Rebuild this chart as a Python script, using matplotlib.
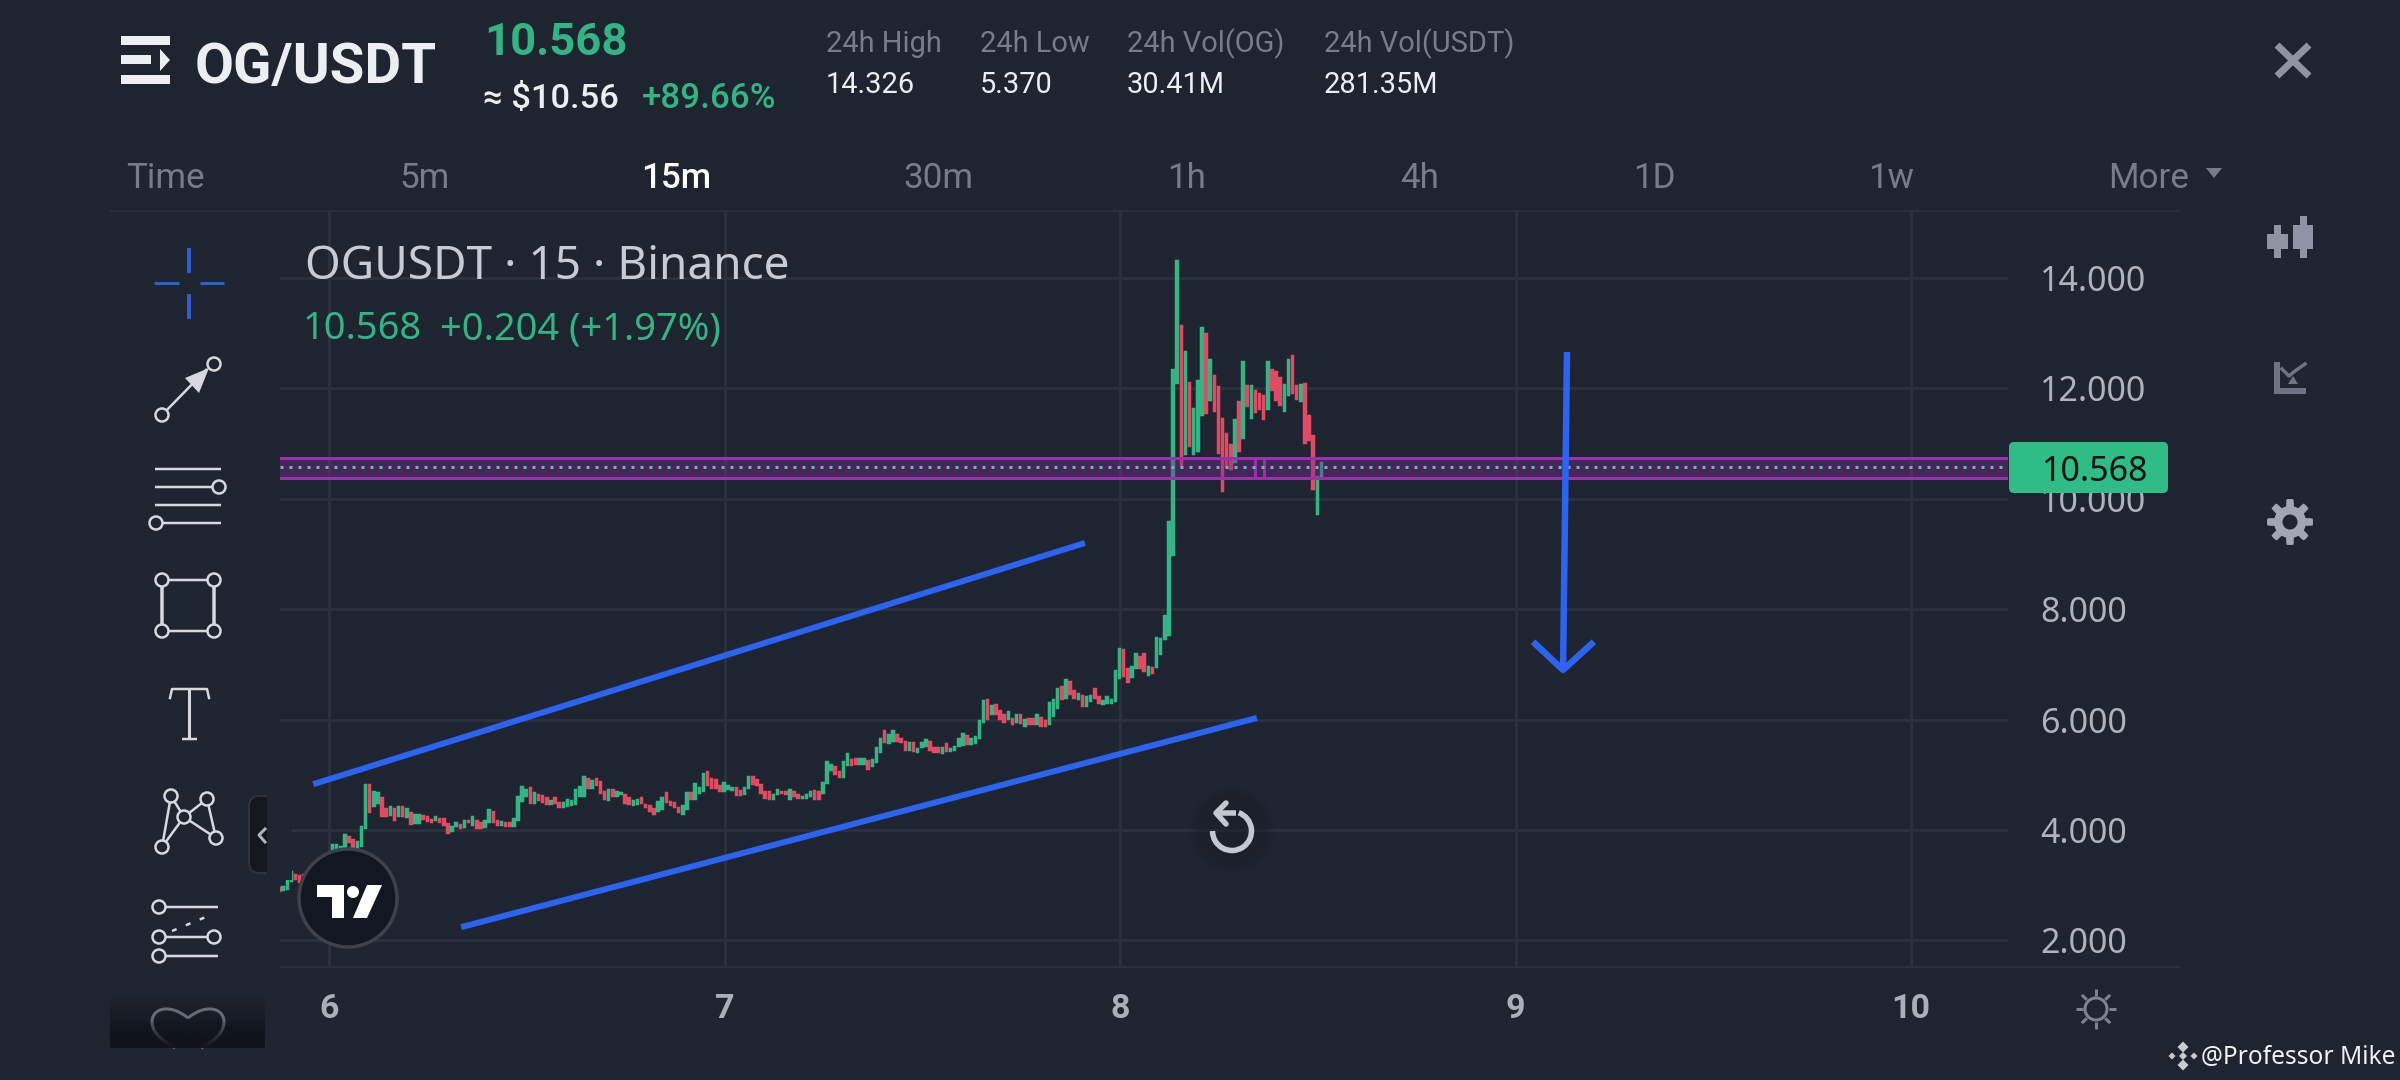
import numpy as np
import matplotlib
matplotlib.use("Agg")
import matplotlib.pyplot as plt
from matplotlib.colors import to_rgb
from matplotlib.patches import Circle, Polygon, FancyBboxPatch, Rectangle, PathPatch, Arc
from matplotlib.path import Path

# ---------- data ----------
symbol = "OG/USDT"
last_price = 10.568
band_top, band_bottom = 10.74, 10.38
price_ticks = [2, 4, 6, 8, 10, 12, 14]
day_ticks = [6, 7, 8, 9, 10]
last_candle_day = 8.509
candle_days = 1 / 96

highs = [
 2.96,2.98,3.20,3.26,3.21,3.18,3.20,3.25,3.30,3.30,
 3.40,3.50,3.55,3.74,3.75,3.71,3.93,3.89,3.84,3.80,
 4.07,4.84,4.83,4.71,4.68,4.60,4.39,4.43,4.39,4.43,
 4.43,4.39,4.32,4.29,4.29,4.28,4.25,4.20,4.25,4.22,
 4.22,4.12,4.08,4.14,4.11,4.18,4.18,4.25,4.18,4.15,
 4.19,4.38,4.35,4.19,4.16,4.14,4.15,4.21,4.61,4.80,
 4.75,4.77,4.68,4.65,4.63,4.59,4.54,4.60,4.51,4.51,
 4.57,4.54,4.74,4.80,4.98,4.94,4.91,4.94,4.89,4.71,
 4.74,4.74,4.71,4.68,4.66,4.60,4.54,4.56,4.60,4.48,
 4.45,4.39,4.52,4.59,4.69,4.53,4.51,4.42,4.45,4.69,
 4.68,4.86,4.77,5.04,5.07,4.94,4.92,4.81,4.87,4.81,
 4.78,4.78,4.72,4.78,4.98,4.98,4.92,4.83,4.71,4.70,
 4.65,4.75,4.71,4.70,4.74,4.70,4.66,4.62,4.65,4.70,
 4.72,4.71,4.87,5.25,5.19,5.16,5.06,5.25,5.40,5.29,
 5.30,5.30,5.30,5.27,5.28,5.50,5.66,5.82,5.74,5.81,
 5.74,5.67,5.61,5.60,5.59,5.48,5.59,5.64,5.61,5.51,
 5.50,5.51,5.58,5.48,5.53,5.66,5.75,5.72,5.66,5.70,
 5.99,6.35,6.38,6.26,6.28,6.17,6.10,6.16,6.02,6.10,
 6.10,6.01,6.02,6.02,6.10,6.04,6.00,6.32,6.38,6.58,
 6.61,6.73,6.70,6.54,6.49,6.45,6.42,6.45,6.58,6.43,
 6.35,6.42,6.38,6.90,7.29,7.27,6.93,6.97,7.20,7.15,
 7.20,6.97,6.96,7.50,7.47,7.89,9.59,12.35,14.33,13.15,
 12.68,12.12,11.64,12.16,13.11,13.01,12.53,12.24,12.04,11.46,
 11.20,10.99,11.44,11.77,12.50,12.06,12.07,11.97,11.92,11.88,
 12.50,12.36,12.31,12.21,12.08,12.53,12.60,12.06,12.08,12.09,
 11.52,11.15,10.41,10.66]
lows = [
 2.88,2.89,2.92,3.06,3.10,3.04,3.09,3.12,3.20,3.20,
 3.25,3.30,3.40,3.55,3.58,3.58,3.64,3.76,3.64,3.59,
 3.70,4.01,4.30,4.42,4.47,4.23,4.23,4.25,4.16,4.23,
 4.23,4.21,4.09,4.11,4.11,4.18,4.15,4.12,4.17,4.13,
 4.07,3.92,3.96,4.05,4.02,4.04,4.12,4.07,4.01,4.02,
 4.03,4.13,4.13,4.07,4.08,4.06,4.05,4.05,4.16,4.51,
 4.60,4.48,4.47,4.53,4.49,4.45,4.45,4.48,4.40,4.40,
 4.42,4.43,4.46,4.59,4.60,4.75,4.75,4.80,4.65,4.55,
 4.52,4.60,4.60,4.63,4.48,4.46,4.43,4.45,4.48,4.40,
 4.32,4.27,4.32,4.37,4.49,4.43,4.40,4.30,4.27,4.36,
 4.54,4.55,4.66,4.68,4.80,4.75,4.74,4.69,4.69,4.72,
 4.71,4.62,4.62,4.63,4.75,4.81,4.80,4.66,4.57,4.55,
 4.55,4.63,4.65,4.63,4.55,4.59,4.56,4.56,4.57,4.59,
 4.55,4.55,4.66,4.84,5.06,5.00,4.94,4.95,5.16,5.16,
 5.18,5.18,5.18,5.09,5.14,5.22,5.39,5.57,5.56,5.60,
 5.60,5.57,5.44,5.43,5.41,5.39,5.48,5.50,5.44,5.40,
 5.39,5.38,5.42,5.42,5.44,5.51,5.52,5.54,5.54,5.56,
 5.64,5.93,5.99,6.08,6.08,5.99,5.93,5.99,5.91,5.94,
 5.92,5.87,5.90,5.90,5.90,5.87,5.86,5.90,6.04,6.20,
 6.35,6.38,6.45,6.37,6.35,6.22,6.23,6.31,6.37,6.28,
 6.26,6.29,6.29,6.32,6.73,6.78,6.67,6.75,6.91,6.91,
 6.87,6.79,6.82,6.93,7.17,7.45,7.52,8.97,12.08,10.59,
 10.79,10.94,10.79,10.84,11.50,11.53,11.77,11.58,10.81,10.13,
 10.58,10.52,10.64,10.84,11.09,11.67,11.44,11.56,11.60,11.43,
 11.61,11.96,11.77,11.69,11.58,11.86,11.90,11.79,11.76,10.99,
 11.04,10.16,9.70,10.35]
directions = (
 "RGGGRRRGGR" "GGGGGGGRRG" "GGRGGRRGRG" "RGRGGRRRGR" "RRGGRGRGRR"
 "GGRRGRRGGG" "GRGRRRGRRG" "GGGGGRGRRR" "GRGGRRGGRR" "RRGGRRRRGG"
 "RGGGRRRRGG" "GRRGGRRRRR" "GGRRGRRGGG" "RRGGGRRGGR" "RGGRGGGRGG"
 "RRRGRGGGRR" "RGRGGGGRGG" "GGRGRRRGRG" "RGRRGRRGGG" "RGRRGRGGRR"
 "GGGGGRRGGR" "RGRGGGGGGR" "GRGGGRGRRR" "RRGRGRGRRR" "GRRRGGRRGR" "RRGG")

upper_channel_day = [5.96, 7.911]
upper_channel_price = [4.83, 9.20]
lower_channel_day = [6.334, 8.346]
lower_channel_price = [2.24, 6.03]
arrow_shaft_day = [9.130, 9.120]
arrow_shaft_price = [12.66, 6.90]
arrow_head_day = [9.044, 9.120, 9.198]
arrow_head_price = [7.41, 6.90, 7.41]
range_box_days = [8.34, 8.363]

stat_labels = ["24h High", "24h Low", "24h Vol(OG)", "24h Vol(USDT)"]
stat_values = ["14.326", "5.370", "30.41M", "281.35M"]
intervals = ["Time", "5m", "15m", "30m", "1h", "4h", "1D", "1w", "More"]

# ---------- style ----------
BG = "#1e2430"
GRID = "#2b313c"
GREEN = "#33b583"
RED = "#e04a63"
BLUE = "#2b63f2"
PURPLE = "#9a2fb0"
ICON = "#d6d8de"
MUTED = "#757c8a"
PX = 0.72  # points per pixel at dpi 100
UIF = "Roboto"
CHF = "Noto Sans"

fig = plt.figure(figsize=(24, 10.8), dpi=100, facecolor=BG)

def box(x0, y0, x1, y1):
    return [x0 / 2400, 1 - y1 / 1080, (x1 - x0) / 2400, (y1 - y0) / 1080]

# ---------- price chart ----------
ax = fig.add_axes(box(280, 211, 2008, 967), facecolor=BG)
ax.set_xlim(5.876, 10.245)
ax.set_ylim(1.518, 15.214)
for s in ax.spines.values():
    s.set_visible(False)
ax.set_axisbelow(True)
ax.grid(True, color=GRID, lw=3 * PX)
ax.yaxis.tick_right()
ax.set_yticks(price_ticks)
ax.set_yticklabels([f"{v:.3f}" for v in price_ticks], fontfamily=CHF, fontsize=34 * PX, color="#aeb2bc")
ax.set_xticks(day_ticks)
ax.set_xticklabels([str(d) for d in day_ticks], fontfamily=UIF, fontsize=34 * PX, fontweight="bold", color="#aab0ba")
ax.tick_params(axis="y", length=0, pad=32 * PX)
ax.tick_params(axis="x", length=0, pad=26 * PX)

days = last_candle_day - candle_days * (len(highs) - 1 - np.arange(len(highs)))
highs_a, lows_a = np.array(highs), np.array(lows)
cols = [GREEN if d == "G" else RED for d in directions]
ax.bar(days, highs_a - lows_a, bottom=lows_a, width=candle_days * 0.85, color=cols,
       edgecolor=cols, linewidth=0.35, zorder=3)

ax.axhspan(band_bottom, band_top, color="#7a2a96", alpha=0.42, lw=0, zorder=4)
ax.axhline(band_top, color=PURPLE, lw=3 * PX, zorder=4)
ax.axhline(band_bottom, color=PURPLE, lw=3 * PX, zorder=4)
for d in range_box_days:
    ax.plot([d, d], [band_bottom, band_top], color=PURPLE, lw=3 * PX, zorder=4)
ax.axhline(last_price, color="#62bda6", lw=3 * PX, linestyle=(0, (1, 2)), zorder=5)

ax.plot(upper_channel_day, upper_channel_price, color=BLUE, lw=6 * PX, solid_capstyle="butt", zorder=6)
ax.plot(lower_channel_day, lower_channel_price, color=BLUE, lw=6 * PX, solid_capstyle="butt", zorder=6)
ax.plot(arrow_shaft_day, arrow_shaft_price, color=BLUE, lw=6.5 * PX, solid_capstyle="butt", zorder=6)
ax.plot(arrow_head_day, arrow_head_price, color=BLUE, lw=6.5 * PX, solid_capstyle="butt", solid_joinstyle="round", zorder=6)

# ---------- interface overlay (pixel coordinates) ----------
ui = fig.add_axes([0, 0, 1, 1], facecolor="none")
ui.set_axis_off()

def hl(x0, y0, x1, y1, color=ICON, w=3, z=5, cap="butt"):
    ui.plot([x0, x1], [y0, y1], color=color, lw=w * PX, solid_capstyle=cap, zorder=z)

def ring(x, y, r=6.5, w=2.5, color=ICON, face=BG, z=6):
    ui.add_patch(Circle((x, y), r, fc=face, ec=color, lw=w * PX, zorder=z))

def T(x, y, s, size, color="white", weight="normal", ha="left", va="baseline", fam=UIF, z=8):
    ui.text(x, y, s, fontsize=size * PX, color=color, fontweight=weight, ha=ha, va=va, family=fam, zorder=z)

# frame lines
hl(110, 211, 2180, 211, color="#292f3a", w=2, z=1)
hl(280, 967, 2180, 967, color=GRID, w=2, z=1)

# header
for y0, y1, x1 in [(36, 45, 170), (55, 64, 151), (75, 84, 170)]:
    ui.add_patch(Rectangle((121, y0), x1 - 121, y1 - y0, fc="#eceef2", ec="none"))
ui.add_patch(Polygon([(160, 49), (170, 60), (160, 71)], fc="#eceef2", ec="none"))
T(195, 83, symbol, 56.5, color="#eceef2", weight="bold")
T(484, 55, f"{last_price:.3f}", 45.5, color=GREEN, weight="bold")
T(483, 108, "≈ $10.56", 34.5, color="#eceef2", weight="medium")
T(642, 108, "+89.66%", 35, color=GREEN, weight="medium")
for x, lab, val in zip([826, 980, 1127, 1324], stat_labels, stat_values):
    T(x, 52, lab, 29, color=MUTED)
    T(x, 93, val, 29, color="#eceef2")
hl(2277, 45, 2309, 76, color="#8d94a2", w=7)
hl(2309, 45, 2277, 76, color="#8d94a2", w=7)

# interval tabs
tab_x = [165, 424, 676, 938, 1187, 1420, 1654, 1891, 2149]
for x, lab in zip(tab_x, intervals):
    T(x, 188, lab, 35, color="white" if lab == "15m" else MUTED, weight="medium" if lab == "15m" else "normal", ha="center")
ui.add_patch(Polygon([(2206, 168), (2222, 168), (2214, 178)], fc=MUTED, ec="none"))

# chart legend
T(305, 279, "OGUSDT · 15 · Binance", 46, color="#c8cbd3", fam=CHF)
T(303, 339, "10.568", 38, color=GREEN, fam=CHF)
T(440, 339, "+0.204 (+1.97%)", 38, color=GREEN, fam=CHF)

# last price tag
ui.add_patch(FancyBboxPatch((2013, 446), 151, 43, boxstyle="round,pad=4,rounding_size=5", fc="#2fbd85", ec="none", zorder=7))
T(2148, 468, f"{last_price:.3f}", 34, color="#0e1116", ha="right", va="center_baseline", fam=CHF)

# left toolbar
C = "#2b5fd6"
hl(189, 248, 189, 273, C, 4); hl(189, 294, 189, 319, C, 4)
hl(154, 283, 179, 283, C, 3); hl(200, 283, 224, 283, C, 3)

hl(162, 415, 207, 369, ICON, 2.5)
ui.add_patch(Polygon([(209, 368), (185, 378), (199, 393)], fc=ICON, ec="none", zorder=5))
ring(162, 415); ring(214, 364)

for y, x0, x1 in [(469, 155, 221), (487, 155, 219), (505, 155, 221), (523, 156, 221)]:
    hl(x0, y, x1, y, ICON, 2.5)
ring(219, 487); ring(156, 523)

hl(162, 580, 214, 580, ICON, 2.5); hl(162, 631, 214, 631, ICON, 2.5)
hl(162, 580, 162, 631, ICON, 3.5); hl(214, 580, 214, 631, ICON, 3.5)
for p in [(162, 580), (214, 580), (162, 631), (214, 631)]:
    ring(*p)

ui.plot([170, 172, 207, 209], [698, 689, 689, 698], color=ICON, lw=2.5 * PX, zorder=5)
hl(189, 689, 189, 739, ICON, 3); hl(182, 739, 197, 739, ICON, 2.5)

nodes = [(171, 796), (207, 799), (184, 817), (162, 847), (216, 838)]
for a, b in [(0, 3), (0, 2), (2, 1), (1, 4), (2, 4), (2, 3)]:
    hl(*nodes[a], *nodes[b], ICON, 2.5)
for n in nodes:
    ring(*n)

hl(159, 907, 218, 907, ICON, 2.5); hl(159, 937, 214, 937, ICON, 2.5); hl(159, 956, 218, 956, ICON, 2.5)
ui.plot([172, 213], [931, 914], color=ICON, lw=2.5 * PX, linestyle=(0, (2, 4)), zorder=5)
for p in [(159, 907), (159, 937), (159, 956), (214, 937)]:
    ring(*p)

# faded heart tile
grad = np.linspace(0, 1, 64)
rgba = np.zeros((64, 1, 4))
rgba[..., :3] = to_rgb("#10131a")
rgba[:, 0, 3] = grad ** 0.8
ui.imshow(rgba, extent=(110, 265, 1048, 996), aspect="auto", zorder=2, interpolation="bilinear")
heart = Path([(188, 1018), (170, 1003), (152, 1008), (152, 1022), (152, 1034), (165, 1042), (175, 1048),
              (201, 1048), (212, 1042), (224, 1034), (224, 1022), (224, 1008), (206, 1003), (188, 1018)],
             [Path.MOVETO, Path.CURVE4, Path.CURVE4, Path.CURVE4, Path.CURVE4, Path.CURVE4, Path.CURVE4,
              Path.MOVETO, Path.CURVE4, Path.CURVE4, Path.CURVE4, Path.CURVE4, Path.CURVE4, Path.CURVE4])
ui.add_patch(PathPatch(heart, fc="none", ec="#666b78", lw=3 * PX, zorder=3))
rgba2 = rgba.copy(); rgba2[:, 0, 3] = grad ** 0.7
ui.imshow(rgba2, extent=(110, 265, 1048, 1020), aspect="auto", zorder=4, interpolation="bilinear")

# collapse tab
ui.add_patch(FancyBboxPatch((255, 802), 30, 65, boxstyle="round,pad=6,rounding_size=10", fc="#14171e", ec="#2d323d", lw=1.5, zorder=4))
ui.add_patch(Rectangle((267, 790), 25, 90, fc=BG, ec="none", zorder=4.5))
ui.plot([265, 259, 265], [829, 835, 842], color="#b0b4be", lw=3 * PX, zorder=5)

# TradingView badge
ui.add_patch(Circle((348, 898), 49, fc="#131722", ec="#3c414c", lw=3.5 * PX, zorder=7))
ui.add_patch(Polygon([(317, 885), (344, 885), (344, 918), (332, 918), (332, 897), (317, 897)], fc="white", ec="none", zorder=8))
ui.add_patch(Circle((353, 892), 6, fc="white", ec="none", zorder=8))
ui.add_patch(Polygon([(367, 885), (382, 885), (367, 918), (353, 918)], fc="white", ec="none", zorder=8))

# reset button
for r, a in [(44, .12), (40, .18), (36, .4)]:
    ui.add_patch(Circle((1232, 830), r, fc="#1a1f29", ec="none", alpha=a, zorder=6))
ui.add_patch(Arc((1232, 831), 39, 39, angle=0, theta1=-70, theta2=180, ec="#c4c7cf", lw=5.5 * PX, zorder=7))
ui.plot([1226, 1216, 1226], [803, 813, 824], color="#c4c7cf", lw=5.5 * PX, zorder=7, solid_capstyle="round")
hl(1217, 813, 1236, 813, "#c4c7cf", 5.5, 7)

# right icons
for x0, x1, wx, wy0, wy1, by0, by1 in [(2267, 2288, 2277, 225, 258, 234, 249), (2293, 2313, 2303, 216, 258, 225, 249)]:
    ui.add_patch(Rectangle((x0, by0), x1 - x0, by1 - by0, fc="#8d94a4", ec="none"))
    ui.add_patch(Rectangle((wx - 3.5, wy0), 7, wy1 - wy0, fc="#8d94a4", ec="none"))
ui.add_patch(Polygon([(2274, 362), (2280, 362), (2280, 388), (2306, 388), (2306, 394), (2274, 394)], fc="#6d7484", ec="none"))
ui.plot([2282, 2289, 2295, 2305], [369, 376, 371, 364], color="#6d7484", lw=3.5 * PX)
ui.add_patch(Polygon([(2288, 384), (2293, 376), (2298, 384)], fc="#6d7484", ec="none"))
ang = np.linspace(0, 2 * np.pi, 161)
rad = 19.5 + 3.5 * np.clip(3 * np.cos(8 * ang), -1, 1)
ui.add_patch(Polygon(np.c_[2290 + rad * np.cos(ang), 522 + rad * np.sin(ang)], fc="#a0a6b3", ec="none"))
ui.add_patch(Circle((2290, 522), 7.5, fc=BG, ec="none", zorder=3))
ui.add_patch(Circle((2096, 1009), 11, fc="none", ec="#7c8390", lw=3 * PX))
for a in np.arange(0, 360, 45):
    ca, sa = np.cos(np.radians(a)), np.sin(np.radians(a))
    hl(2096 + 13 * ca, 1009 + 13 * sa, 2096 + 20 * ca, 1009 + 20 * sa, "#7c8390", 3)

# watermark
for cx, cy, r in [(2183, 1056, 4), (2183, 1047, 5.5), (2183, 1065, 5.5), (2172, 1056, 3.5), (2194, 1056, 3.5)]:
    ui.add_patch(Polygon([(cx, cy - r), (cx + r, cy), (cx, cy + r), (cx - r, cy)], fc="#c9cbd1", ec="none"))
T(2201, 1064, "@Professor Mike", 24.5, color="#f1f2f4", fam=CHF)

ui.set_xlim(0, 2400)
ui.set_ylim(1080, 0)

fig.savefig("out.png", dpi=100, facecolor=BG)
